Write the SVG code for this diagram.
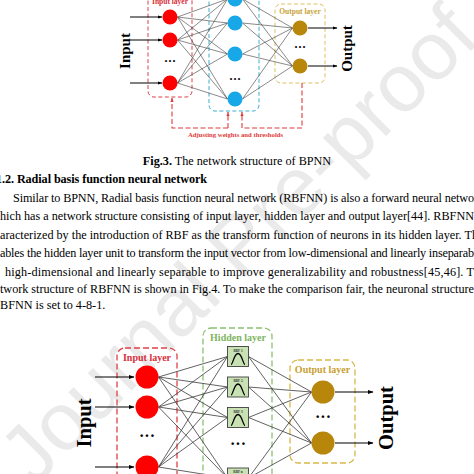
<svg xmlns="http://www.w3.org/2000/svg" xmlns:xlink="http://www.w3.org/1999/xlink" width="474" height="474" viewBox="0 0 474 474">
<style>
.wm{font-family:"Liberation Sans",Arial,sans-serif;font-size:82px;fill:#eaeaea}
.body{font-family:"Liberation Serif","Times New Roman",serif;font-size:12.2px;fill:#000}
.bold{font-weight:bold}
.lbl{font-family:"Liberation Serif","Times New Roman",serif;font-weight:bold;text-anchor:middle}
.io1{font-size:15px;fill:#000}
.io2{font-size:20.5px;fill:#000}
.dots{font-family:"Liberation Serif",serif;font-weight:bold;text-anchor:middle;fill:#000}
.w{stroke:#3a3a3a;stroke-width:0.6;fill:none}
.w2{stroke:#3a3a3a;stroke-width:0.8;fill:none}
.arr{stroke:#000;stroke-width:1;fill:none;marker-end:url(#ah)}
.arr2{stroke:#000;stroke-width:1.2;fill:none;marker-end:url(#ah)}
.fb{stroke:#e03a3a;stroke-width:1.1;fill:none;stroke-dasharray:5 2.5}
.redbox{fill:none;stroke:#e04048;stroke-dasharray:4 2.5;stroke-width:1}
.bluebox{fill:none;stroke:#3aaed0;stroke-dasharray:4 2.5;stroke-width:1}
.goldbox{fill:none;stroke:#dcc060;stroke-dasharray:4 2.5;stroke-width:1}
.redbox2{fill:none;stroke:#e04048;stroke-dasharray:6 3;stroke-width:1.3}
.greenbox2{fill:none;stroke:#8cc070;stroke-dasharray:6 3;stroke-width:1.3}
.goldbox2{fill:none;stroke:#d8b848;stroke-dasharray:6 3;stroke-width:1.3}
.rn{fill:#ff0000}
.cn{fill:#18a8e8}
.on{fill:#b8860b}
</style>
<defs>
<marker id="ah" viewBox="0 0 10 10" refX="9" refY="5" markerWidth="5" markerHeight="5" orient="auto"><path d="M0,1.5 L10,5 L0,8.5z" fill="#000"/></marker>
<marker id="rah" viewBox="0 0 10 10" refX="9" refY="5" markerWidth="4" markerHeight="4" orient="auto"><path d="M0,1.5 L10,5 L0,8.5z" fill="#e03a3a"/></marker>
<g id="rbfShape">
<rect x="0" y="0" width="21" height="20" fill="#c8e2b4" stroke="#404040" stroke-width="0.9"/>
<path d="M3.5,18 C5.5,18 6.5,7 10.5,7 C14.5,7 15.5,18 17.5,18" fill="none" stroke="#000" stroke-width="1.3"/>
</g>
</defs>
<rect width="474" height="474" fill="#fff"/>
<g id="watermark">
<text class="wm" transform="translate(34,488) rotate(-45)">Journal Pre-proof</text>
</g>

<!-- Figure 3: BPNN -->
<g id="fig3-boxes">
<rect class="redbox" x="148" y="-10" width="44" height="107" rx="6"/>
<rect class="bluebox" x="209" y="-10" width="50" height="121" rx="6"/>
<rect class="goldbox" x="275" y="4" width="50" height="79" rx="6"/>
<text class="lbl" x="170" y="3.5" font-size="7.5" fill="#d8303a">Input layer</text>
<text class="lbl" x="300" y="14" font-size="7.5" fill="#c8a438">Output layer</text>
</g>
<g id="fig3-connectors">
<path class="w" d="M177.5,17L227.5,-1M177.5,17L227.5,23M177.5,17L227.5,54M177.5,17L227.5,99M177.5,40L227.5,-1M177.5,40L227.5,23M177.5,40L227.5,54M177.5,40L227.5,99M177.5,83L227.5,-1M177.5,83L227.5,23M177.5,83L227.5,54M177.5,83L227.5,99"/>
<path class="w" d="M242.5,-1L292.5,28M242.5,-1L292.5,66M242.5,23L292.5,28M242.5,23L292.5,66M242.5,54L292.5,28M242.5,54L292.5,66M242.5,99L292.5,28M242.5,99L292.5,66"/>
<path class="arr" d="M130,17H162"/>
<path class="arr" d="M130,40H162"/>
<path class="arr" d="M130,83H162"/>
<path class="arr" d="M308,28H337"/>
<path class="arr" d="M308,66H337"/>
<path class="fb" d="M228,128H172V98" marker-end="url(#rah)"/>
<path class="fb" d="M228,128V112" marker-end="url(#rah)"/>
<path class="fb" d="M302,83V128H242V112" marker-end="url(#rah)"/>
</g>
<g id="f3-in1"><circle class="rn" cx="170" cy="17" r="7.5"/></g>
<g id="f3-in2"><circle class="rn" cx="170" cy="40" r="7.5"/></g>
<g id="f3-in3"><circle class="rn" cx="170" cy="83" r="7.5"/></g>
<g id="f3-h1"><circle class="cn" cx="235" cy="-1" r="7.5"/></g>
<g id="f3-h2"><circle class="cn" cx="235" cy="23" r="7.5"/></g>
<g id="f3-h3"><circle class="cn" cx="235" cy="54" r="7.5"/></g>
<g id="f3-h4"><circle class="cn" cx="235" cy="99" r="7.5"/></g>
<g id="f3-o1"><circle class="on" cx="300" cy="28" r="7.5"/></g>
<g id="f3-o2"><circle class="on" cx="300" cy="66" r="7.5"/></g>
<g id="fig3-texts">
<text class="dots" x="170" y="65" font-size="12">···</text>
<text class="dots" x="235" y="83" font-size="12">···</text>
<text class="dots" x="300" y="51" font-size="12">···</text>
<text class="lbl io1" transform="translate(129.5,51) rotate(-90)">Input</text>
<text class="lbl io1" transform="translate(352,48.5) rotate(-90)">Output</text>
<text class="lbl" x="235.5" y="136.5" font-size="6.7" fill="#e03a3a">Adjusting weights and thresholds</text>
</g>

<!-- Page text -->
<g id="page-text">
<text class="body" x="237" y="165" text-anchor="middle"><tspan class="bold">Fig.3.</tspan> The network structure of BPNN</text>
<text class="body bold" x="-4" y="183" textLength="211" lengthAdjust="spacing">1.2. Radial basis function neural network</text>
<text class="body" x="13" y="202" textLength="461" lengthAdjust="spacing">Similar to BPNN, Radial basis function neural network (RBFNN) is also a forward neural netwo</text>
<text class="body" x="0" y="220" textLength="474" lengthAdjust="spacing">hich has a network structure consisting of input layer, hidden layer and output layer[44]. RBFNN</text>
<text class="body" x="0" y="238.5" textLength="478" lengthAdjust="spacing">aracterized by the introduction of RBF as the transform function of neurons in its hidden layer. Th</text>
<text class="body" x="0" y="257" textLength="474" lengthAdjust="spacing">ables the hidden layer unit to transform the input vector from low-dimensional and linearly inseparab</text>
<text class="body" x="5" y="276" textLength="469" lengthAdjust="spacing">high-dimensional and linearly separable to improve generalizability and robustness[45,46]. T</text>
<text class="body" x="0" y="293" textLength="474" lengthAdjust="spacing">twork structure of RBFNN is shown in Fig.4. To make the comparison fair, the neuronal structure</text>
<text class="body" x="0" y="309">BFNN is set to 4-8-1.</text>
</g>

<!-- Figure 4: RBFNN -->
<g id="fig4-boxes">
<rect class="redbox2" x="117" y="348" width="60" height="140" rx="8"/>
<rect class="greenbox2" x="203" y="328" width="69" height="160" rx="8"/>
<rect class="goldbox2" x="290" y="360" width="65" height="103" rx="8"/>
<text class="lbl" x="147" y="361" font-size="10" fill="#d8303a">Input layer</text>
<text class="lbl" x="238" y="340.5" font-size="10" fill="#80b460">Hidden layer</text>
<text class="lbl" x="322.5" y="373" font-size="10" fill="#c8a030">Output layer</text>
</g>
<g id="fig4-connectors">
<path class="w2" d="M158.5,377L227.5,356.5M158.5,377L227.5,387M158.5,377L227.5,417.5M158.5,377L227.5,478M158.5,407L227.5,356.5M158.5,407L227.5,387M158.5,407L227.5,417.5M158.5,407L227.5,478M158.5,467L227.5,356.5M158.5,467L227.5,387M158.5,467L227.5,417.5M158.5,467L227.5,478"/>
<path class="w2" d="M248.5,356.5L311.5,392M248.5,356.5L311.5,443M248.5,387L311.5,392M248.5,387L311.5,443M248.5,417.5L311.5,392M248.5,417.5L311.5,443M248.5,478L311.5,392M248.5,478L311.5,443"/>
<path class="arr2" d="M95,377H134"/>
<path class="arr2" d="M95,407H134"/>
<path class="arr2" d="M95,467H134"/>
<path class="arr2" d="M335,392H373"/>
<path class="arr2" d="M335,443H373"/>
</g>
<g id="f4-in1"><circle class="rn" cx="147" cy="377" r="11.5"/></g>
<g id="f4-in2"><circle class="rn" cx="147" cy="407" r="11.5"/></g>
<g id="f4-in3"><circle class="rn" cx="147" cy="467" r="11.5"/></g>
<g id="f4-rbf1"><use xlink:href="#rbfShape" x="227.5" y="346.5"/><text class="lbl" x="238" y="351.5" font-size="3.4" fill="#333">RBF 1</text></g>
<g id="f4-rbf2"><use xlink:href="#rbfShape" x="227.5" y="377"/><text class="lbl" x="238" y="382" font-size="3.4" fill="#333">RBF 2</text></g>
<g id="f4-rbf3"><use xlink:href="#rbfShape" x="227.5" y="407.5"/><text class="lbl" x="238" y="412.5" font-size="3.4" fill="#333">RBF 3</text></g>
<g id="f4-rbfn"><use xlink:href="#rbfShape" x="227.5" y="468"/><text class="lbl" x="238" y="473" font-size="3.4" fill="#333">RBF n</text></g>
<g id="f4-o1"><circle class="on" cx="323" cy="392" r="11.5"/></g>
<g id="f4-o2"><circle class="on" cx="323" cy="443" r="11.5"/></g>
<g id="fig4-texts">
<text class="dots" x="147" y="441" font-size="16">···</text>
<text class="dots" x="238" y="449" font-size="16">···</text>
<text class="dots" x="323" y="422" font-size="16">···</text>
<text class="lbl io2" transform="translate(90.5,423) rotate(-90)">Input</text>
<text class="lbl io2" transform="translate(392.5,418) rotate(-90)">Output</text>
</g>
</svg>
